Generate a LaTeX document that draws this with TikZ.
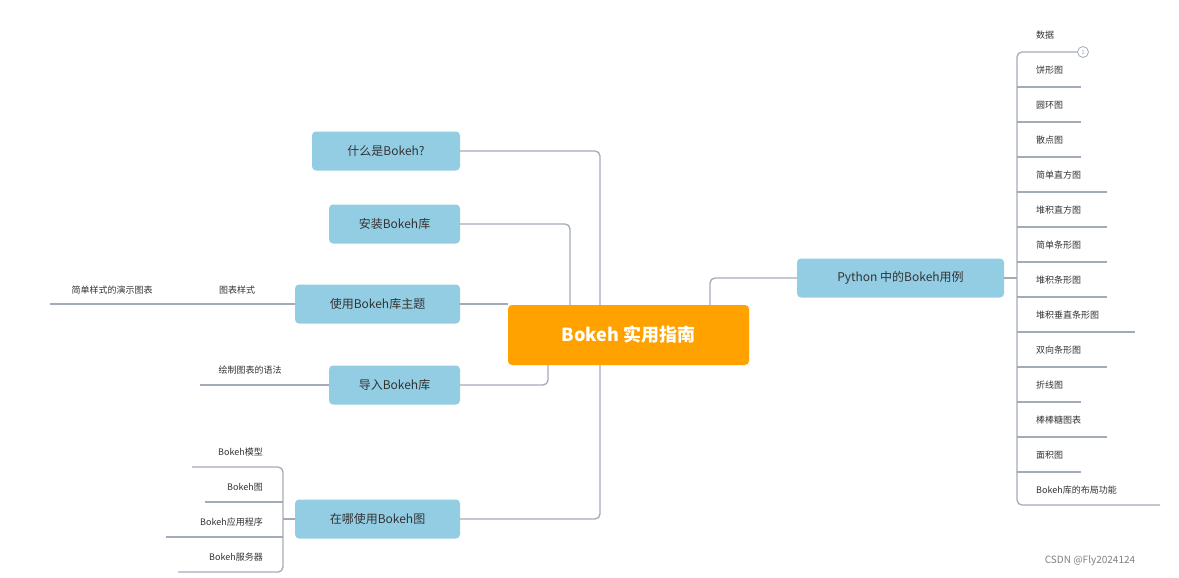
\documentclass[tikz,border=0pt]{standalone}
\usepackage{fontspec}
\setmainfont{Noto Sans CJK SC}
\begin{document}
\begin{tikzpicture}[x=1pt,y=-1pt,
  conn/.style={draw=lineg,line width=1.3pt,rounded corners=5pt},
  topic/.style={fill=topicblue,rounded corners=4pt,text=textd,font=\fontsize{12}{14}\selectfont,minimum height=39pt,inner xsep=6pt},
  leaf/.style={text=textd,font=\fontsize{9}{11}\selectfont,inner sep=1pt}]
\definecolor{lineg}{HTML}{A3AAB8}
\definecolor{topicblue}{HTML}{93CDE3}
\definecolor{textd}{HTML}{333333}
\definecolor{orng}{HTML}{FFA200}
\useasboundingbox (0,0) rectangle (1179,578);
% central
\node[fill=orng,rounded corners=4pt,text=white,font=\bfseries\fontsize{18}{20}\selectfont,minimum width=241pt,minimum height=60pt] (c) at (628.5,335) {Bokeh 实用指南};
% left topics
\node[topic,minimum width=148pt] (t1) at (386,151) {什么是Bokeh?};
\node[topic,minimum width=131pt] (t2) at (394.5,224) {安装Bokeh库};
\node[topic,minimum width=165pt] (t3) at (377.5,304) {使用Bokeh库主题};
\node[topic,minimum width=131pt] (t4) at (394.5,385) {导入Bokeh库};
\node[topic,minimum width=165pt] (t5) at (377.5,519) {在哪使用Bokeh图};
\node[topic,minimum width=207pt] (py) at (900.5,278) {Python 中的Bokeh用例};
\draw[conn] (t1.east) -| (600,305);
\draw[conn] (t2.east) -| (570,305);
\draw[conn] (t3.east) -- (c.west|-t3.east);
\draw[conn] (t4.east) -| (548,365);
\draw[conn] (t5.east) -| (600,365);
\draw[conn] (py.west) -| (710,305);
% theme children
\coordinate (e3) at (50,304);
\draw[conn] (t3.west) -- (e3);
\node[leaf] (s1) at (237,290) {图表样式};
\node[leaf] (s2) at (112,290) {简单样式的演示图表};
\coordinate (e4) at (200,385);
\draw[conn] (t4.west) -- (e4);
\node[leaf] (s3) at (250,370) {绘制图表的语法};
% where children
\coordinate (w0) at (283,519);
\draw[conn] (t5.west) -- (w0);
\draw[conn] (192,467) -- (283,467) -- (283,572) -- (178,572);
\draw[conn] (283,502) -- (205,502);
\draw[conn] (283,537) -- (166,537);
\node[leaf,anchor=east] (w1) at (264,452) {Bokeh模型};
\node[leaf,anchor=east] (w2) at (264,487) {Bokeh图};
\node[leaf,anchor=east] (w3) at (264,522) {Bokeh应用程序};
\node[leaf,anchor=east] (w4) at (264,557) {Bokeh服务器};
% right list
\draw[conn] (py.east) -- (1017,278);
\draw[conn] (1077,52) -- (1017,52) -- (1017,505) -- (1160,505);
\foreach \t/\w [count=\i from 0] in {数据/60,饼形图/64,圆环图/64,散点图/64,简单直方图/90,堆积直方图/90,简单条形图/90,堆积条形图/90,堆积垂直条形图/118,双向条形图/90,折线图/64,棒棒糖图表/90,面积图/64}{
  \node[leaf,anchor=west] (r\i) at (1035,35+35*\i) {\t};
  \ifnum\i>0 \draw[conn] (1017,52+35*\i) -- (1017+\w,52+35*\i); \fi
}
\node[leaf,anchor=west] (r13) at (1035,490) {Bokeh库的布局功能};
\node[circle,draw=lineg,fill=white,line width=0.8pt,inner sep=0.5pt,minimum size=11pt,font=\fontsize{6}{7}\selectfont,text=lineg] (n1) at (1083,52) {1};
\node[text=gray,font=\fontsize{10}{12}\selectfont] (wm) at (1090,561) {CSDN @Fly2024124};
\end{tikzpicture}
\end{document}
